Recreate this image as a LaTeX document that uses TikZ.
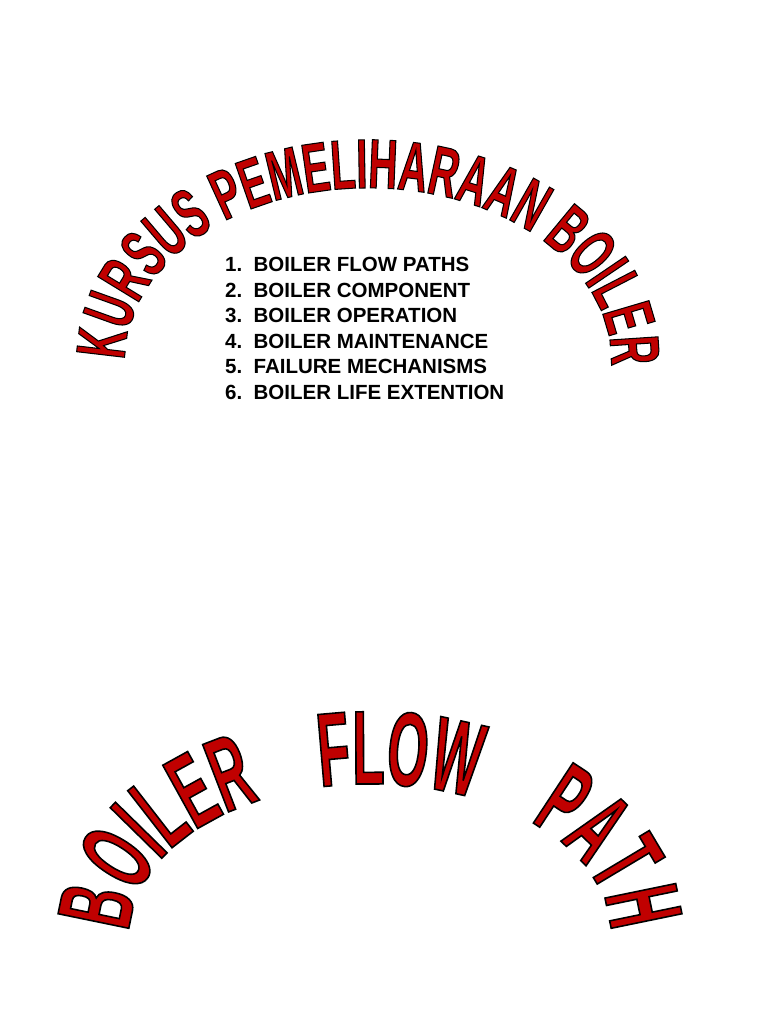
\documentclass[tikz,border=0pt]{standalone}
\usepackage{fontspec}
\setmainfont{Liberation Sans}
\newfontfamily\wa[FakeStretch=0.57,FakeBold=1.5]{Liberation Sans Bold}
\newfontfamily\wb[FakeStretch=0.5,FakeBold=1.5]{Liberation Sans Bold}
\usetikzlibrary{decorations.text}
\definecolor{wared}{HTML}{C00000}
\newcommand{\outl}{\special{pdf:literal 2 Tr 0.8 w 0 G}}
\begin{document}
\begin{tikzpicture}[x=1pt,y=1pt]
\useasboundingbox (0,0) rectangle (768,1024);
\path[decorate,decoration={text along path,text align={fit to path stretching spaces},text color=wared,
 text={|\wa\fontsize{70}{70}\selectfont\outl|KURSUS PEMELIHARAAN BOILER}}]
 (125,664) arc[start angle=180,end angle=0,x radius=243,y radius=172];
\path[decorate,decoration={text along path,text align={fit to path stretching spaces},text color=wared,
 text={|\wb\fontsize{105}{105}\selectfont\outl|BOILER FLOW PATH}}]
 (130,92) arc[start angle=180,end angle=0,x radius=240,y radius=148];
\node[anchor=north west,align=left,font=\bfseries\fontsize{20.5}{25.6}\selectfont,inner sep=0] (list) at (225,767)
 {1.\ \ BOILER FLOW PATHS\\2.\ \ BOILER COMPONENT\\3.\ \ BOILER OPERATION\\4.\ \ BOILER MAINTENANCE\\5.\ \ FAILURE MECHANISMS\\6.\ \ BOILER LIFE EXTENTION};
\end{tikzpicture}
\end{document}
